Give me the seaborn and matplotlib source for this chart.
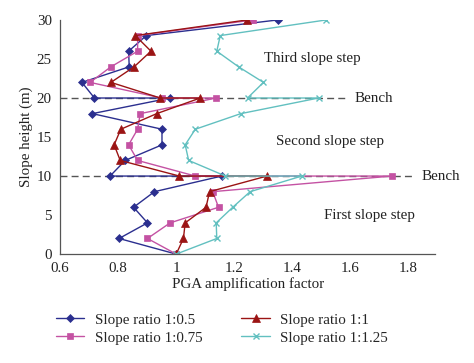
import numpy as np
import pandas as pd
import matplotlib
matplotlib.use('Agg')
import matplotlib.pyplot as plt
import seaborn as sns

# Heights (m); benches at 10 and 20 appear twice (spike then step back)
heights = [0, 2, 4, 6, 8, 10, 10, 12, 14, 16, 18, 20, 20, 22, 24, 26, 28, 30]

ratio_05 = [1.0, 0.803, 0.901, 0.853, 0.925, 1.157, 0.772, 0.824, 0.951, 0.951,
            0.711, 0.979, 0.718, 0.675, 0.838, 0.836, 0.897, 1.35]
ratio_075 = [1.0, 0.901, 0.979, 1.146, 1.126, 1.744, 1.066, 0.867, 0.836, 0.867,
             0.876, 1.138, 0.95, 0.703, 0.775, 0.867, 0.867, 1.264]
ratio_1 = [1.0, 1.025, 1.031, 1.103, 1.115, 1.313, 1.011, 0.807, 0.786, 0.809,
           0.933, 1.083, 0.945, 0.775, 0.855, 0.913, 0.859, 1.244]
ratio_125 = [1.0, 1.14, 1.138, 1.195, 1.255, 1.433, 1.17, 1.043, 1.031, 1.066,
             1.223, 1.491, 1.246, 1.301, 1.215, 1.14, 1.152, 1.517]

labels = ['Slope ratio 1:0.5', 'Slope ratio 1:0.75', 'Slope ratio 1:1', 'Slope ratio 1:1.25']
series = [ratio_05, ratio_075, ratio_1, ratio_125]

colors = ['#2b2f8f', '#c452a3', '#9b1414', '#62c0c0']
markers = ['D', 's', '^', 'x']
msizes = [4, 4.5, 5.5, 4]

bench_heights = [10, 20]
bench_ends = [1.82, 1.59]

sns.set_style('white')
plt.rcParams['font.family'] = ['Liberation Serif', 'DejaVu Serif']

fig = plt.figure(figsize=(4.74, 3.63), dpi=100)
ax = fig.add_axes([0.127, 0.300, 0.791, 0.645])

for i, (lab, vals) in enumerate(zip(labels, series)):
    df = pd.DataFrame({'pga': vals, 'h': heights})
    sns.lineplot(data=df, x='pga', y='h', sort=False, estimator=None, ax=ax,
                 color=colors[i], marker=markers[i], markersize=msizes[i],
                 markeredgecolor=colors[i], markeredgewidth=1.0 if markers[i] == 'x' else 0.5,
                 linewidth=1.0, label=lab, legend=False)

# bench lines
for h, xe in zip(bench_heights, bench_ends):
    ax.plot([0.6, xe], [h, h], color='#555555', linestyle=(0, (5, 3)), linewidth=1.0, zorder=0)
ax.text(1.845, 10, 'Bench', fontsize=10.8, va='center', ha='left', color='#222222')
ax.text(1.615, 20, 'Bench', fontsize=10.8, va='center', ha='left', color='#222222')

ax.text(1.47, 25.0, 'Third slope step', fontsize=10.8, ha='center', va='center', color='#222222')
ax.text(1.53, 14.4, 'Second slope step', fontsize=10.8, ha='center', va='center', color='#222222')
ax.text(1.665, 5.0, 'First slope step', fontsize=10.8, ha='center', va='center', color='#222222')

ax.set_xlim(0.6, 1.893)
ax.set_ylim(0, 30)
ax.set_xticks([0.6, 0.8, 1.0, 1.2, 1.4, 1.6, 1.8])
ax.set_xticklabels(['0.6', '0.8', '1', '1.2', '1.4', '1.6', '1.8'])
ax.set_yticks([0, 5, 10, 15, 20, 25, 30])
ax.tick_params(axis='both', direction='inout', length=5, width=0.8, colors='#444444',
               labelsize=10.8, labelcolor='#222222')
ax.set_xlabel('PGA amplification factor', fontsize=10.8, color='#222222', labelpad=1)
ax.set_ylabel('Slope height (m)', fontsize=10.8, color='#222222', labelpad=3)

for side in ['top', 'right']:
    ax.spines[side].set_visible(False)
for side in ['left', 'bottom']:
    ax.spines[side].set_color('#555555')
    ax.spines[side].set_linewidth(0.9)

handles, labs = ax.get_legend_handles_labels()
fig.legend(handles, labs, ncol=2, loc='center', bbox_to_anchor=(0.468, 0.094),
           frameon=False, fontsize=10.8, handlelength=1.9, columnspacing=2.6,
           handletextpad=0.7, labelspacing=0.3)

fig.savefig('out.png', dpi=100)
